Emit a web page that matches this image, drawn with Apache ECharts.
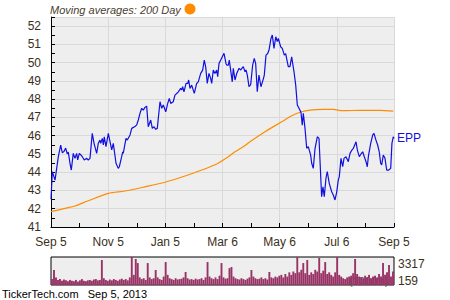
<!DOCTYPE html>
<html><head><meta charset="utf-8">
<script src="https://cdn.jsdelivr.net/npm/echarts@6/dist/echarts.min.js"></script>
<style>html,body{margin:0;padding:0;background:#fff}#c{width:450px;height:300px}</style>
</head><body><div id="c"></div>
<script>
// x tick labels (days since Sep 5, 2012)
const xLabels = ['Sep 5','Nov 5','Jan 5','Mar 6','May 6','Jul 6','Sep 5'];
// EPP closing price: day offsets and prices
const priceDays = [0,1.4,4.3,7.8,10.3,12,13.8,15.6,17.3,18.4,20.2,21.6,23.7,25.5,27.3,28.4,30.1,31.9,33.3,35.4,38,39.7,41.5,43.9,45.8,48.6,50.3,52.1,52.9,54.6,55.7,56.7,58.5,61,62.8,64.6,66.3,69.2,71.6,72.7,75.2,76.3,76.9,79.8,81.2,84.1,85.9,89.4,91.2,92.9,94.7,96.5,98.2,100,101.8,103.5,106.1,107.8,109.6,111.4,113.1,116,117.8,119.5,122.1,124.2,125.9,127.4,130.1,131.9,133.8,135.5,138,139.1,140.1,141.5,143.7,145.5,146.5,147.9,149.7,152.5,155,156.7,159.3,161.4,163.1,164.6,166.3,168.1,169.9,171,172.7,174.5,176.3,177.4,178.8,180.6,182.3,184.1,186.2,187,188.7,189.7,192.9,194,195.8,197.6,200.1,201.9,204.6,206.5,207.5,208.9,210.7,212.5,214.6,216.3,217.8,219.5,221.3,223.4,225.9,227,228.8,230.6,232,234.1,235.5,237.3,239.2,240.8,241.9,244.4,246.1,248.3,249.7,252.5,254.3,256.1,258.6,260.4,262.1,263.9,266,267.4,268.5,270.3,272.1,273.8,276.3,277.4,279.1,281,283.4,285.2,288,289.4,290.8,292.6,294,296.1,298.7,300.4,302.2,304,305.7,306.8,308.6,310.4,311.8,313.9,316.4,318.2,320,321.7,324.6,326,328.1,329.9,331.7,333.4,335.2,336.6,337.7,340.2,342.4,343.7,345.8,347.6,349.3,350.8,351.9,353.6,355.4,357.2,359.3,361.5,362.8,364.2,365];
const prices = [42.52,44.03,43.57,44.85,45.49,45.07,45.13,45.32,45.0,45.1,44.49,44.12,45.03,44.76,45.03,44.67,45.03,44.94,44.85,44.67,44.76,44.67,44.76,46.13,45.58,45.03,45.58,45.76,45.58,45.85,45.49,45.94,45.4,46.13,45.67,45.22,45.58,44.49,44.21,44.3,44.85,45.12,45.03,45.85,45.76,46.04,46.4,46.5,46.59,46.86,47.22,47.5,47.4,47.55,47.62,46.49,46.86,46.4,46.49,46.35,46.4,47.86,47.5,47.68,47.31,47.77,48.04,47.77,47.86,48.22,48.31,48.4,48.59,48.5,48.68,48.4,48.86,48.86,49.05,48.59,48.77,48.32,48.86,48.95,49.41,49.59,50.14,49.77,48.86,49.41,49.14,48.86,49.59,49.41,49.59,49.23,49.96,50.14,50.32,50.51,49.96,49.87,49.87,50.14,48.95,49.69,49.05,49.4,49.69,49.6,49.78,49.5,49.6,49.32,48.68,48.8,49.87,50.23,49.95,48.41,49.32,48.68,49.1,49.32,50.41,50.5,50.69,51.33,51.51,50.78,51.42,51.15,51.33,50.87,50.78,50.41,50.5,49.78,49.78,50.32,49.5,48.77,47.68,47.5,47.28,46.58,47.22,46.4,45.31,45.4,44.94,44.49,44.21,45.31,45.94,45.85,42.66,43.2,42.66,43.67,44.03,43.39,42.93,42.75,42.48,42.9,43.57,43.76,44.76,44.3,44.76,44.85,44.58,45.03,45.2,45.3,45.67,45.21,44.85,45.0,45.12,44.85,44.58,44.3,44.85,45.58,46.04,46.13,45.76,45.49,45.12,44.49,44.4,44.94,44.76,44.12,44.12,44.21,45.58,45.94,45.85];
// 200-day moving average
const maDays = [0,14.9,25.5,39.7,61,78.7,100,121.3,142.6,160.4,176.3,188.7,195.8,205.7,211.8,227.7,245.5,256.1,266.8,275.6,289.4,300.1,310.7,328.8,350.1,364.2];
const maValues = [41.84,42.02,42.15,42.44,42.84,42.97,43.2,43.45,43.79,44.12,44.45,44.85,45.12,45.43,45.67,46.22,46.76,47.09,47.31,47.4,47.44,47.44,47.37,47.39,47.39,47.35];
// daily volume (1000's)
const volumes = [700,1780,900,600,700,500,650,550,450,600,
500,450,600,400,550,700,500,450,550,600,
500,650,700,550,600,2960,800,600,500,650,
550,700,600,500,650,750,600,700,550,900,
3317,1200,3080,2600,900,700,800,600,2600,900,
700,800,1780,900,700,600,1000,2720,1200,800,
700,600,800,650,700,750,900,1540,800,650,
700,600,750,650,700,800,600,900,2720,1000,
800,700,900,700,1100,2600,900,750,800,2000,
2130,1000,800,700,650,800,700,600,750,900,
1780,1000,800,700,750,900,700,800,650,1540,
900,800,1000,900,1100,1200,900,1300,1000,1500,
1200,1600,1400,3317,1500,1800,2600,1400,2960,1200,
1500,1300,1800,1600,3200,1400,1700,2720,1300,1500,
1200,1000,1500,3317,1200,1000,800,700,900,1000,
1100,1400,3080,1300,1000,900,800,1100,900,1200,
800,1000,1100,900,1300,1000,2600,1200,1500,2370,
1000,1600];
const volLabels = ['3317','159'];

const txt = '#3a3020';
const font = 'Liberation Sans, Arial, sans-serif';
const chart = echarts.init(document.getElementById('c'), null, {renderer:'svg'});
const step = 365/6;
chart.setOption({
  animation:false,
  grid:[
    {left:51, top:17, width:343, height:210, show:true, backgroundColor:'#eeeeee', borderWidth:0},
    {left:51, top:257, width:343, height:28, show:true, backgroundColor:'#eeeeee', borderColor:'#000', borderWidth:1}
  ],
  xAxis:[
    {type:'value', gridIndex:0, min:0, max:365, interval:step,
     axisLine:{show:true, lineStyle:{color:'#000', width:1}},
     axisTick:{show:true, inside:true, length:4, lineStyle:{color:'#000'}},
     minorTick:{show:true, splitNumber:2, length:4, lineStyle:{color:'#000'}},
     splitLine:{show:true, lineStyle:{color:'#d9d9d9', width:1}},
     axisLabel:{color:txt, fontSize:12, fontFamily:font, margin:9,
       formatter:v=>xLabels[Math.round(v/step)]}},
    {type:'category', gridIndex:1, data:volumes.map((v,i)=>i), show:false, boundaryGap:true}
  ],
  yAxis:[
    {type:'value', gridIndex:0, min:41, max:52.5, interval:1,
     axisLine:{show:true, lineStyle:{color:'#000', width:1}},
     axisTick:{show:true, inside:true, length:4, lineStyle:{color:'#000'}},
     minorTick:{show:true, splitNumber:2, length:4, lineStyle:{color:'#000'}},
     splitLine:{show:true, lineStyle:{color:'#d9d9d9', width:1}},
     axisLabel:{color:txt, fontSize:12, fontFamily:font, margin:10, showMaxLabel:false}},
    {type:'value', gridIndex:1, min:0, max:3317, show:false}
  ],
  series:[
    {type:'line', xAxisIndex:0, yAxisIndex:0, data:maDays.map((d,i)=>[d,maValues[i]]),
     symbol:'none', lineStyle:{color:'#ff8c00', width:1.2}, smooth:0.3, z:2},
    {type:'line', xAxisIndex:0, yAxisIndex:0, data:priceDays.map((d,i)=>[d,prices[i]]),
     symbol:'none', lineStyle:{color:'#1010e0', width:1.2}, z:3,
     endLabel:{show:true, formatter:'EPP', color:'#1010e0', fontSize:12, fontFamily:font, distance:3}},
    {type:'bar', xAxisIndex:1, yAxisIndex:1, data:volumes, barCategoryGap:'5%',
     itemStyle:{color:'#993366'}}
  ],
  graphic:[
    {type:'text', left:50, top:4, style:{text:'Moving averages: 200 Day', fill:'#4a4030', font:'italic 11px '+font}},
    {type:'circle', shape:{cx:190, cy:9, r:5.5}, style:{fill:'#ff8c00'}},
    {type:'text', left:398, top:258, style:{text:volLabels[0], fill:txt, font:'12px '+font}},
    {type:'text', left:398, top:275, style:{text:volLabels[1], fill:txt, font:'12px '+font}},
    {type:'text', left:349, top:275, style:{text:"(1000's)", fill:'#336644', font:'11px '+font}},
    {type:'text', left:2, top:288, style:{text:'TickerTech.com   Sep 5, 2013', fill:'#000', font:'11px '+font}}
  ]
});
</script></body></html>
